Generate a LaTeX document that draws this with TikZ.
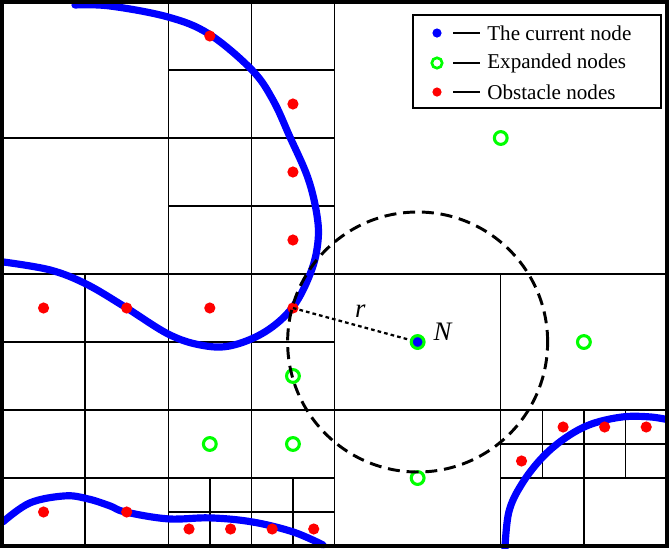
\documentclass[tikz,border=0pt]{standalone}
\usepackage{fontspec}
\setmainfont{Liberation Serif}
\begin{document}
\begin{tikzpicture}[x=2.078125cm,y=1.7cm,
  gridline/.style={line width=1.05pt, black},
  frameline/.style={line width=2.8pt, black},
  blueline/.style={line width=5.1pt, blue, line cap=round, line join=round},
  obst/.style={circle, fill=red, inner sep=0pt, minimum size=0.28cm},
  expd/.style={circle, draw=green, line width=2.2pt, inner sep=0pt, minimum size=0.32cm},
  curnode/.style={circle, fill=blue, draw=green, line width=2.2pt, inner sep=0pt, minimum size=0.32cm},
  lgobst/.style={circle, fill=red, inner sep=0pt, minimum size=0.23cm},
  lgexpd/.style={circle, draw=green, line width=1.9pt, inner sep=0pt, minimum size=0.26cm},
  lgcur/.style={circle, fill=blue, inner sep=0pt, minimum size=0.23cm},
  lgbox/.style={draw, line width=1.1pt, inner sep=0pt, minimum width=6.201cm, minimum height=2.326cm},
  lgtext/.style={anchor=west, inner sep=0pt, font=\fontsize{15}{18}\selectfont},
  lgline/.style={line width=1.2pt, black},
  searchcircle/.style={line width=2.1pt, black, dash pattern=on 0.3cm off 0.17cm},
  radiusline/.style={line width=1.6pt, black, dash pattern=on 2.6pt off 2.2pt},
  biglabel/.style={inner sep=0pt, font=\fontsize{19}{22}\selectfont\itshape}]
\useasboundingbox (-0.05cm,-0.05cm) rectangle (16.675cm,13.65cm);

% ---------------- grid ----------------
\draw[gridline] (4,0) -- (4,8);
\draw[gridline] (0,4) -- (8,4);
% top-left quadrant
\draw[gridline] (0,6) -- (4,6);
\draw[gridline] (2,4) -- (2,8);
\draw[gridline] (3,4) -- (3,8);
\draw[gridline] (2,7) -- (4,7);
\draw[gridline] (2,5) -- (4,5);
% bottom-left quadrant
\foreach \k in {1,2,3} {
  \draw[gridline] (\k,0) -- (\k,4);
  \draw[gridline] (0,\k) -- (4,\k);
}
\draw[gridline] (2.5,0) -- (2.5,1);
\draw[gridline] (3.5,0) -- (3.5,1);
\draw[gridline] (2,0.5) -- (4,0.5);
% bottom-right quadrant
\draw[gridline] (6,0) -- (6,4);
\draw[gridline] (4,2) -- (8,2);
\draw[gridline] (7,0) -- (7,2);
\draw[gridline] (6,1) -- (8,1);
\draw[gridline] (6.5,1) -- (6.5,2);
\draw[gridline] (7.5,1) -- (7.5,2);
\draw[gridline] (6,1.5) -- (8,1.5);

% ---------------- obstacle boundaries ----------------
\begin{scope}[x=0.025cm,y=-0.025cm,shift={(-0.05cm,13.65cm)}]
\draw[blueline] plot[smooth, tension=0.6] coordinates {
  (75,5) (110,6) (168,17) (209,34) (252,70) (273,100) (290,137) (308,178)
  (317,215) (318,242) (311,272) (293,307) (265,332) (230,346) (200,345)
  (168,334) (125,307) (86,284) (50,270) (3,262)};
\draw[blueline] plot[smooth, tension=0.6] coordinates {
  (3,522) (30,503) (65,496) (88,499) (110,506) (125,512) (168,519)
  (210,518) (252,522) (293,532) (323,545)};
\draw[blueline] plot[smooth, tension=0.6] coordinates {
  (505,550) (509,512) (522,484) (543,457) (567,437) (592,424) (623,417)
  (650,417) (669,420)};
\end{scope}

% ---------------- obstacle nodes ----------------
\node[obst] (o1) at (2.5,7.5) {};
\node[obst] (o2) at (3.5,6.5) {};
\node[obst] (o3) at (3.5,5.5) {};
\node[obst] (o4) at (3.5,4.5) {};
\node[obst] (o5) at (0.5,3.5) {};
\node[obst] (o6) at (1.5,3.5) {};
\node[obst] (o7) at (2.5,3.5) {};
\node[obst] (o8) at (3.5,3.5) {};
\node[obst] (o9) at (0.5,0.5) {};
\node[obst] (o10) at (1.5,0.5) {};
\node[obst] (o11) at (2.25,0.25) {};
\node[obst] (o12) at (2.75,0.25) {};
\node[obst] (o13) at (3.25,0.25) {};
\node[obst] (o14) at (3.75,0.25) {};
\node[obst] (o15) at (6.25,1.25) {};
\node[obst] (o16) at (6.75,1.75) {};
\node[obst] (o17) at (7.25,1.75) {};
\node[obst] (o18) at (7.75,1.75) {};

% ---------------- expanded nodes ----------------
\node[expd] (e1) at (6,6) {};
\node[expd] (e2) at (7,3) {};
\node[expd] (e3) at (5,1) {};
\node[expd] (e4) at (3.5,2.5) {};
\node[expd] (e5) at (2.5,1.5) {};
\node[expd] (e6) at (3.5,1.5) {};

% ---------------- current node ----------------
\node[curnode] (N) at (5,3) {};

% search circle and radius
\draw[searchcircle] (N.center) circle[radius=3.25cm];
\draw[radiusline] (o8.center) -- (N);
\node[biglabel] (rlab) at (4.31,3.45) {r};
\node[biglabel] (Nlab) at (5.30,3.15) {N};

% ---------------- legend ----------------
\node[lgbox] (lg) at (6.436,7.125) {};
\node[lgcur] (l1) at (5.233,7.544) {};
\node[lgexpd] (l2) at (5.233,7.103) {};
\node[lgobst] (l3) at (5.233,6.676) {};
\coordinate (l1a) at (5.426,7.544); \coordinate (l1b) at (5.750,7.544);
\coordinate (l2a) at (5.426,7.103); \coordinate (l2b) at (5.750,7.103);
\coordinate (l3a) at (5.426,6.676); \coordinate (l3b) at (5.750,6.676);
\draw[lgline] (l1a) -- (l1b);
\draw[lgline] (l2a) -- (l2b);
\draw[lgline] (l3a) -- (l3b);
\node[lgtext] (t1) at (5.835,7.544) {The current node};
\node[lgtext] (t2) at (5.835,7.103) {Expanded nodes};
\node[lgtext] (t3) at (5.835,6.676) {Obstacle nodes};

% ---------------- frame ----------------
\draw[frameline] (0,0) rectangle (8,8);
\end{tikzpicture}
\end{document}
